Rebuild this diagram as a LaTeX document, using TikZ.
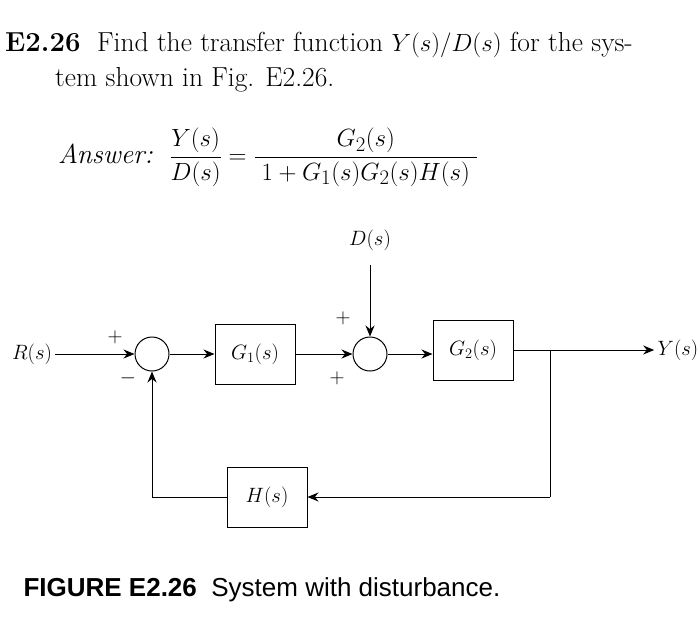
\documentclass[tikz,border=0pt]{standalone}
\usepackage{fontspec}
\newfontfamily\capfont{Liberation Sans}
\usetikzlibrary{arrows.meta}
\begin{document}
\begin{tikzpicture}[x=1pt,y=-1pt,
  blk/.style={draw,line width=1pt,minimum width=80pt,minimum height=60pt,font=\fontsize{21}{23}\selectfont},
  sum/.style={draw,circle,line width=1pt,minimum size=34pt,inner sep=0pt},
  lbl/.style={font=\fontsize{21}{23}\selectfont},
  txt/.style={font=\fontsize{27.5}{30}\selectfont,anchor=west,inner sep=0pt},
  arr/.style={line width=1pt,-{Stealth[length=11pt,width=9pt]}},
  ln/.style={line width=1pt}]
\useasboundingbox (0,0) rectangle (700,626);
\node[txt] (t1) at (5,45) {\textbf{E2.26}\ \ Find the transfer function $Y(s)/D(s)$ for the sys-};
\node[txt] (t2) at (55,80) {tem shown in Fig. E2.26.};
\node[txt] (ans) at (58,157) {\textit{Answer:}\ \ $\displaystyle\frac{Y(s)}{D(s)}=\frac{G_2(s)}{\;1+G_1(s)G_2(s)H(s)\;}$};
\node[lbl] (D) at (370,240) {$D(s)$};
\coordinate (dtop) at (370,265);
\node[lbl] (R) at (32,354) {$R(s)$};
\node[sum] (s1) at (152,354) {};
\node[blk] (G1) at (255,354) {$G_1(s)$};
\node[sum] (s2) at (370,354) {};
\node[blk] (G2) at (473,350) {$G_2(s)$};
\node[lbl] (Y) at (678,350) {$Y(s)$};
\node[blk] (H) at (267,497) {$H(s)$};
\coordinate (br) at (550,350);
\node[lbl] (p1) at (115,337) {$+$};
\node[lbl] (m1) at (128,378) {$-$};
\node[lbl] (p2) at (343,318) {$+$};
\node[lbl] (p3) at (337,378) {$+$};
\draw[arr] (R) -- (s1);
\draw[arr] (s1) -- (G1);
\draw[arr] (G1) -- (s2);
\draw[arr] (dtop) -- (s2);
\draw[arr] (s2) -- (s2 -| G2.west);
\draw[arr] (G2) -- (Y);
\draw[ln] (br) |- (550,497);
\draw[arr] (550,497) -- (H);
\draw[arr] (H) -| (s1);
\node[font=\capfont\fontsize{26}{28}\selectfont,anchor=west] (cap) at (20,590) {\textbf{FIGURE E2.26}\ \ System with disturbance.};
\end{tikzpicture}
\end{document}
